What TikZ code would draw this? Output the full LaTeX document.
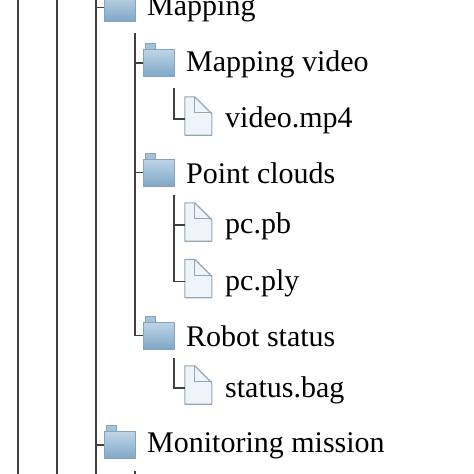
\documentclass[tikz,border=0pt]{standalone}
\usepackage{fontspec}
\setmainfont{Liberation Serif}
\usetikzlibrary{positioning,calc}
\definecolor{linec}{HTML}{404040}
\definecolor{foldb}{HTML}{86A3B8}
\definecolor{foldt}{HTML}{BFD5E6}
\definecolor{foldd}{HTML}{7FA8C9}
\definecolor{foldtab}{HTML}{A3C2DC}
\definecolor{fileb}{HTML}{93A6B4}
\definecolor{filef}{HTML}{EEF4F9}
\tikzset{
  tree/.style={draw=linec, line width=1.3pt},
  foldertab/.style={draw=foldb, fill=foldtab, line width=1pt},
  foldericon/.style={rectangle, draw=foldb, line width=1pt, top color=foldt, bottom color=foldd,
              inner sep=0pt, minimum width=31pt, minimum height=27pt},
  fileicon/.style={rectangle, inner sep=0pt, minimum width=27pt, minimum height=38pt},
  fileline/.style={draw=fileb, fill=filef, line width=1.1pt, line join=round},
  lbl/.style={font=\fontsize{30}{30}\selectfont, text=black, inner sep=0pt, anchor=base west},
}
\newcommand{\foldernode}[2]{%
  \draw[foldertab] (#2) ++(-14pt,13.5pt) rectangle ++(10pt,6pt);
  \node[foldericon] (#1) at (#2) {};
}
\newcommand{\filenode}[2]{%
  \node[fileicon] (#1) at (#2) {};
  \draw[fileline] (#1.north west) -- ++(10pt,0) -- ++(17pt,-17pt) |- (#1.south west) -- cycle;
  \draw[fileline, fill=none] (#1.north west) ++(10pt,0) -- ++(0,-16pt) -- ++(17pt,0);
}
\begin{document}
\begin{tikzpicture}[x=1pt,y=-1pt]
  \clip (0,0) rectangle (474,474);
  % trunks
  \coordinate (t1a) at (18,-5);
  \coordinate (t1b) at (18,479);
  \coordinate (t2a) at (57,-5);
  \coordinate (t2b) at (57,479);
  \coordinate (t3a) at (96,-5);
  \coordinate (t3b) at (96,479);
  \draw[tree] (t1a) -- (t1b);
  \draw[tree] (t2a) -- (t2b);
  \draw[tree] (t3a) -- (t3b);
  % folders and files
  \foldernode{mapping}{120,7.5}
  \node[lbl] (mappingt) at (147,15) {Mapping};
  \foldernode{mapvid}{159,63}
  \node[lbl] (mapvidt) at (186,71) {Mapping video};
  \filenode{vidfile}{198.5,116}
  \node[lbl] (vidfilet) at (225,127) {video.mp4};
  \foldernode{points}{159,172.5}
  \node[lbl] (pointst) at (186,183) {Point clouds};
  \filenode{pbfile}{198.5,222}
  \node[lbl] (pbfilet) at (225,233) {pc.pb};
  \filenode{plyfile}{198.5,278.5}
  \node[lbl] (plyfilet) at (225,290) {pc.ply};
  \foldernode{robot}{159,335.5}
  \node[lbl] (robott) at (186,346) {Robot status};
  \filenode{bagfile}{198.5,385}
  \node[lbl] (bagfilet) at (225,397) {status.bag};
  \foldernode{monitor}{120,445}
  \node[lbl] (monitort) at (147,452) {Monitoring mission};
  % connectors
  \coordinate (m1) at (135,33);
  \coordinate (m2) at (135,471);
  \coordinate (m3) at (135,479);
  \coordinate (f1) at (174,88);
  \coordinate (f2) at (174,195);
  \coordinate (f3) at (174,358);
  \draw[tree] (t3a |- mapping) -- (mapping);
  \draw[tree] (t3a |- monitor) -- (monitor);
  \draw[tree] (m1) -- (m1 |- robot) -- (robot);
  \draw[tree] (m1 |- mapvid) -- (mapvid);
  \draw[tree] (m1 |- points) -- (points);
  \draw[tree] (m2) -- (m3);
  \draw[tree] (f1) |- ([yshift=-3pt]vidfile.west);
  \draw[tree] (f2) |- ([yshift=-3pt]plyfile.west);
  \draw[tree] (f2 |- pbfile.west) ++(0,3) -- ([yshift=-3pt]pbfile.west);
  \draw[tree] (f3) |- ([yshift=-3pt]bagfile.west);
\end{tikzpicture}
\end{document}
